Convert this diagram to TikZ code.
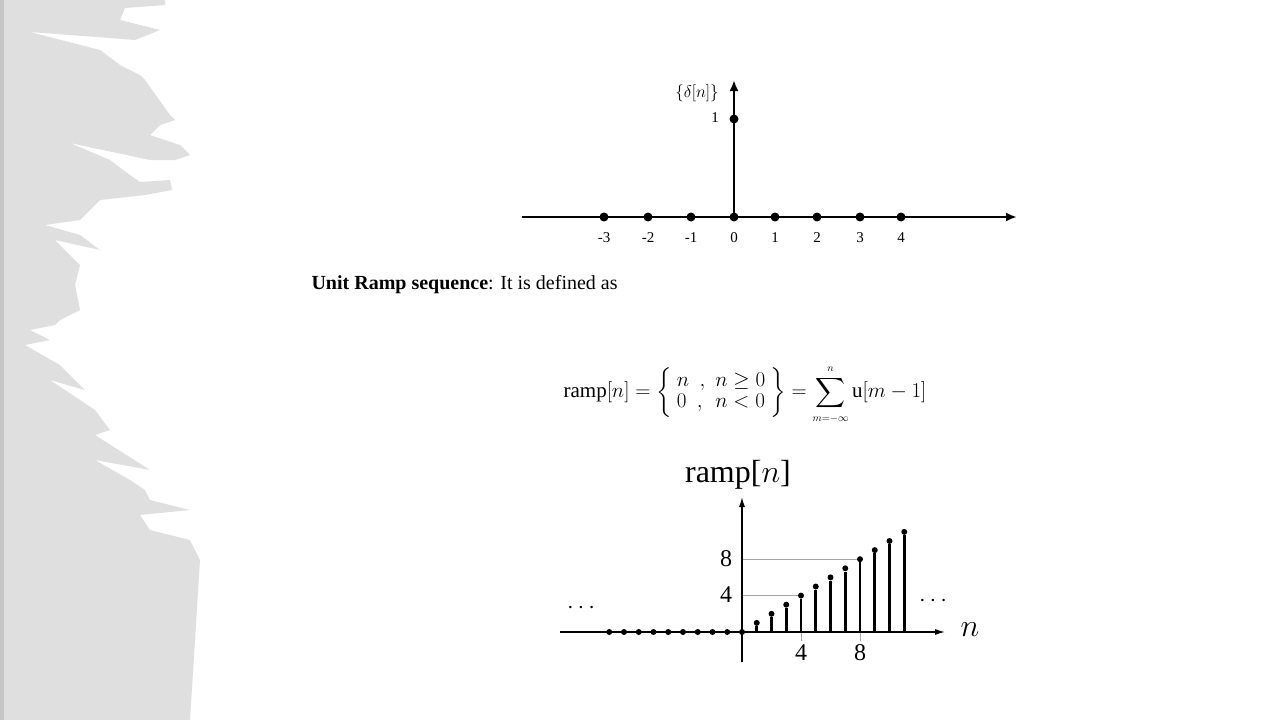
\RequirePackage{fix-cm}
\documentclass[tikz,border=0pt]{standalone}
\usepackage{amsmath}
\usepackage{fontspec}
\setmainfont{Liberation Serif}
\usetikzlibrary{arrows.meta}
\begin{document}
\begin{tikzpicture}[x=1pt,y=-1pt,
  ax/.style={line width=2.2pt,-{Latex[length=11pt,width=9pt]}},
  dt/.style={fill=black,circle,inner sep=0pt,minimum size=9pt},
  sd/.style={fill=black,circle,inner sep=0pt,minimum size=6pt},
  lbl/.style={font=\fontsize{15}{15}\selectfont},
  blbl/.style={font=\fontsize{24}{24}\selectfont}]
\useasboundingbox (0,0) rectangle (1280,720);
\fill[white] (0,0) rectangle (1280,720);
\fill[gray!25] (0,0) -- (165,0) -- (165,5) -- (125,8) -- (120,20) -- (160,30) -- (135,40) -- (110,38) -- (30,32) -- (100,50) -- (120,65) -- (140,75) -- (145,80) -- (170,115) -- (175,120) -- (160,125) -- (150,135) -- (180,145) -- (190,155) -- (175,160) -- (150,160) -- (70,143) -- (110,160) -- (130,175) -- (140,182) -- (170,180) -- (172,190) -- (145,195) -- (100,200) -- (90,210) -- (80,220) -- (45,225) -- (80,235) -- (100,250) -- (55,240) -- (80,265) -- (75,285) -- (80,310) -- (60,320) -- (55,325) -- (30,330) -- (50,340) -- (25,345) -- (60,365) -- (85,390) -- (50,380) -- (95,410) -- (110,430) -- (95,435) -- (150,470) -- (95,460) -- (130,480) -- (145,490) -- (150,500) -- (190,510) -- (140,515) -- (150,530) -- (190,540) -- (200,560) -- (190,720) -- (0,720) -- cycle;
\fill[gray!45] (0,0) rectangle (4,720);
% top plot
\coordinate (hl) at (522,217); \coordinate (hr) at (1017,217);
\coordinate (vb) at (734,217); \coordinate (vt) at (734,80);
\draw[ax] (hl) -- (hr);
\draw[ax] (vb) -- (vt);
\node[dt] (p1) at (734,119) {};
\foreach \x/\l in {604/-3,648/-2,691/-1,734/0,775/1,817/2,860/3,901/4}{
  \node[dt] (d\l) at (\x,217) {};
  \node[lbl] (t\l) at (\x,238) {\l};}
\node[lbl] (one) at (715,118) {1};
\node[font=\fontsize{17}{17}\selectfont] (dl) at (697,93) {$\{\delta[n]\}$};
% text
\node[anchor=west,font=\fontsize{20}{20}\selectfont] (txt) at (308,285) {\textbf{Unit Ramp sequence}: It is defined as};
\node[font=\fontsize{21}{21}\selectfont] (eq) at (745,395) {$\mathrm{ramp}[n]=\left\{\begin{array}{ll}n\ \ , & n\geq 0\\ 0\ \ , & n<0\end{array}\right\}=\displaystyle\sum_{\scriptscriptstyle m=-\infty}^{\scriptscriptstyle n}\mathrm{u}[m-1]$};
% bottom plot
\coordinate (bl) at (560,632); \coordinate (br) at (945,632);
\coordinate (bb) at (742,662); \coordinate (bt) at (742,497);
\draw[gray!70,line width=1pt] (742,595) -- (801,595) (742,559) -- (860,559);
\draw[gray!70,line width=1pt] (801,632) -- (801,641) (860,632) -- (860,641);
\draw[line width=1.2pt,-{Latex[length=10pt,width=6pt]}] (bl) -- (br);
\draw[line width=1.2pt,-{Latex[length=10pt,width=6pt]}] (bb) -- (bt);
\foreach \k in {-9,...,0}{\node[sd] (z\k) at ({742+14.75*\k},632) {};}
\foreach \k in {1,...,11}{
  \node[sd] (r\k) at ({742+14.75*\k},{632-9.1*\k}) {};
  \draw[line width=2.6pt] ({742+14.75*\k},632) -- (r\k);}
\node[blbl] (y8) at (726,559) {8};
\node[blbl] (y4) at (726,595) {4};
\node[blbl] (x4) at (801,653) {4};
\node[blbl] (x8) at (860,653) {8};
\node[font=\fontsize{32}{32}\selectfont] (rl) at (738,475) {ramp[$n$]};
\node[font=\fontsize{32}{32}\selectfont] (nl) at (970,630) {$n$};
\node[blbl] (e1) at (583,608) {$\cdots$};
\node[blbl] (e2) at (935,601) {$\cdots$};
\end{tikzpicture}
\end{document}
